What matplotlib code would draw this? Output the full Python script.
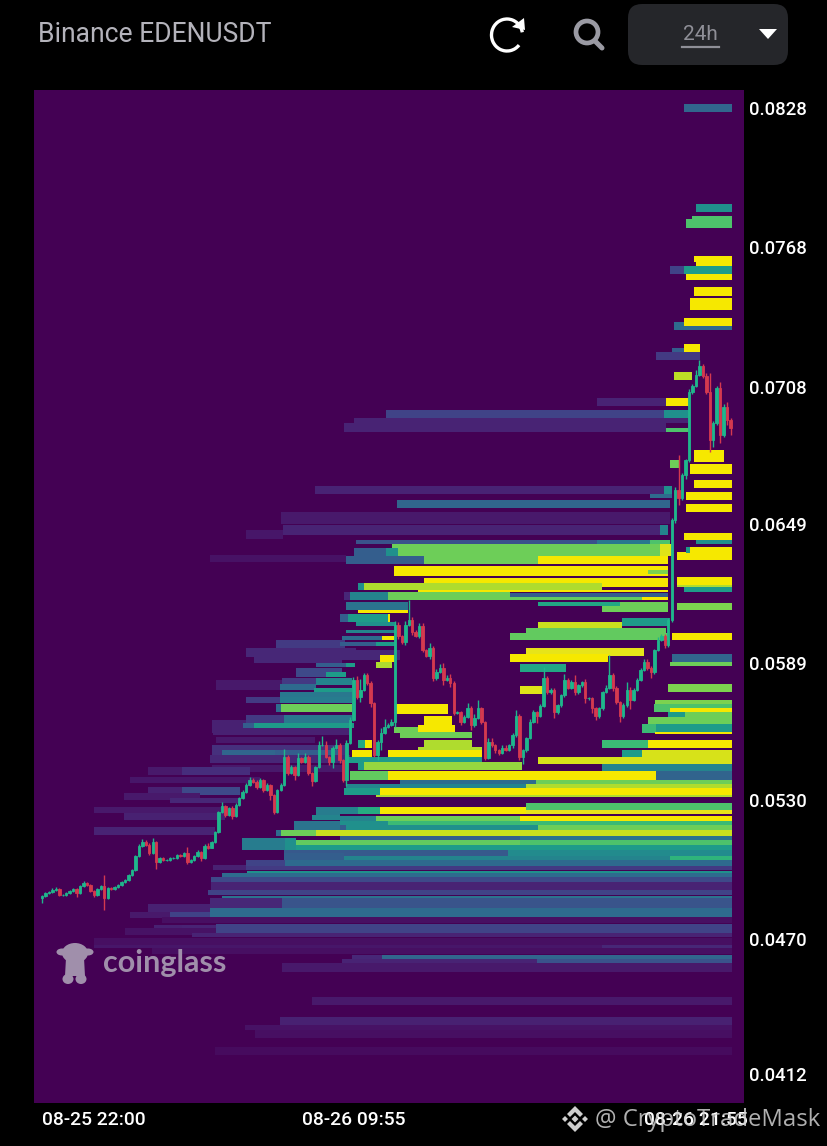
import matplotlib
matplotlib.use('Agg')
import matplotlib.pyplot as plt
import numpy as np
from matplotlib.patches import Arc, Circle, Ellipse, FancyBboxPatch, Polygon

W, H = 828, 1146
E = 690  # last time bucket of the heatmap

# price axis
price_ticks = [0.0828, 0.0768, 0.0708, 0.0649, 0.0589, 0.0530, 0.0470, 0.0412]
price_labels = ['0.0828', '0.0768', '0.0708', '0.0649', '0.0589', '0.0530', '0.0470', '0.0412']
price_top = 0.08357
price_bottom = 0.03995

# time axis (candle numbers)
time_ticks = [15, 90, 189]
time_labels = ['08-25 22:00', '08-26 09:55', '08-26 21:55']

# liquidation bands: first price bin, last price bin, first time bucket, last time bucket, level
heat_left = [
    (550, 558, 234, 303, .17), (558, 567, 204, 314, .11), (560, 570, 242, 358, .11), (567, 573, 212, 300, .11),
    (573, 577, 274, 304, .3), (573, 577, 304, 313, .55), (578, 583, 254, 300, .22), (582, 587, 254, 284, .22),
    (582, 587, 284, 304, .55), (590, 600, 174, 240, .07), (588, 595, 240, 274, .17), (588, 595, 274, 310, .45),
    (594, 600, 238, 274, .35), (598, 603, 272, 310, .55), (602, 607, 238, 310, .4), (607, 613, 204, 238, .17),
    (607, 613, 238, 310, .42), (614, 622, 234, 239, .35), (614, 622, 239, 310, .78), (625, 633, 204, 242, .17),
    (625, 633, 242, 310, .4), (630, 643, 170, 204, .09), (633, 638, 201, 212, .3), (633, 638, 212, 312, .55),
    (638, 645, 171, 308, .09), (647, 653, 174, 273, .07), (655, 665, 170, 303, .14), (660, 665, 180, 233, .33),
    (660, 665, 233, 298, .3), (665, 673, 168, 308, .11), (675, 682, 170, 303, .07), (677, 685, 106, 140, .07),
    (677, 685, 140, 208, .13), (687, 693, 88, 218, .06), (697, 705, 106, 140, .09), (697, 705, 140, 198, .22),
    (703, 710, 82, 158, .07), (708, 713, 128, 198, .11), (717, 723, 52, 183, .07), (723, 730, 82, 183, .09),
    (737, 745, 52, 173, .1),
]
heat_upper = [
    (14, 22, 642, E, .33), (114, 122, 654, E, .5), (126, 129, 650, E, .72), (129, 138, 644, E, .72),
    (166, 172, 652, E, 1), (172, 178, 654, E, 1), (176, 184, 628, 642, .2), (176, 184, 642, E, .55),
    (184, 190, 644, E, 1), (197, 206, 652, E, 1), (208, 220, 648, E, 1), (228, 236, 642, E, 1),
    (232, 240, 632, 642, .35), (236, 240, 642, E, .35), (258, 268, 630, 658, .3), (262, 270, 614, 658, .17),
    (254, 262, 642, 658, 1), (282, 290, 632, 650, .9), (308, 316, 555, 624, .1), (308, 316, 624, 648, 1),
    (320, 328, 344, 622, .2), (320, 328, 622, 648, .5), (328, 333, 312, 648, .1), (333, 342, 302, 624, .1),
    (338, 342, 624, 648, .72), (360, 372, 652, 682, 1), (370, 378, 628, 638, .78), (374, 384, 648, E, 1),
    (390, 398, 652, E, 1), (402, 410, 644, E, 1), (414, 422, 644, E, 1), (396, 404, 273, 622, .1),
    (396, 404, 622, 630, .5), (404, 408, 608, 630, .35), (410, 418, 355, 628, .33), (422, 434, 239, 628, .07),
    (440, 449, 204, 241, .06), (435, 445, 241, 618, .1), (435, 445, 618, 626, .45),
]
heat_cluster = [
    (443, 450, 642, E, 1), (450, 454, 654, E, .5), (450, 454, 314, 555, .25), (450, 454, 555, 608, .4),
    (450, 454, 608, 628, .72), (457, 462, 648, E, 1), (462, 470, 635, E, 1), (457, 463, 644, 648, .55),
    (454, 466, 350, 618, .78), (458, 466, 312, 344, .3), (458, 466, 344, 356, .5), (454, 466, 618, 630, .95),
    (465, 472, 168, 304, .05), (466, 474, 304, 382, .3), (466, 474, 382, 496, .78), (466, 474, 496, 626, 1),
    (476, 486, 352, 626, 1), (480, 484, 606, 626, .8), (488, 497, 382, 626, 1), (493, 500, 316, 322, .5),
    (493, 500, 322, 560, .88), (500, 502, 376, 626, 1), (502, 510, 302, 308, .11), (502, 510, 308, 346, .45),
    (502, 510, 346, 468, .78), (503, 507, 468, 626, .3), (507, 510, 468, 600, .76), (507, 510, 600, 626, 1),
    (512, 520, 304, 366, .38), (512, 516, 496, 578, .6), (512, 516, 578, 626, .78), (516, 522, 560, 626, .78),
    (520, 523, 316, 366, 1), (487, 495, 635, E, 1), (495, 497, 635, E, .88), (497, 502, 642, E, .55),
    (513, 520, 635, E, .8), (524, 532, 298, 306, .3), (524, 532, 306, 346, .55), (524, 532, 346, 348, 1),
    (532, 536, 314, 354, .5), (540, 543, 304, 354, .45), (546, 550, 300, 340, .35), (546, 550, 340, 353, 1),
    (552, 556, 298, 334, .3), (552, 556, 334, 354, .55), (565, 572, 338, 353, 1), (572, 578, 334, 350, .88),
    (528, 536, 580, 628, .55), (532, 540, 496, 580, .92), (538, 543, 484, 624, .76), (543, 550, 468, 626, .76),
    (543, 550, 630, E, 1), (558, 566, 484, 602, .96), (564, 572, 468, 566, 1), (564, 572, 630, E, .33),
    (572, 576, 628, E, .78), (574, 582, 478, 524, .6), (594, 602, 626, E, .8), (596, 604, 478, 501, .95),
]
heat_support = [
    (610, 618, 613, E, .8), (614, 622, 612, E, .72), (618, 622, 628, E, 1), (622, 628, 626, 643, .55),
    (622, 628, 643, E, .78), (627, 634, 606, E, .78), (634, 643, 600, 614, .68), (634, 643, 614, E, .55),
    (642, 644, 613, E, 1), (614, 624, 353, 406, 1), (626, 635, 382, 410, 1), (635, 642, 376, 413, 1),
    (637, 643, 352, 376, .78), (642, 648, 358, 430, .78), (650, 658, 316, 323, .6), (650, 658, 323, 330, 1),
    (650, 658, 382, 430, .88), (657, 664, 376, 440, .88), (660, 668, 310, 330, 1), (660, 668, 346, 440, 1),
    (667, 673, 304, 440, .55), (672, 680, 316, 322, .55), (672, 680, 322, 480, .84), (650, 658, 560, 606, .68),
    (650, 658, 606, E, 1), (660, 667, 580, 600, .55), (660, 667, 600, E, .94), (667, 674, 496, E, .94),
    (674, 681, 560, E, .45), (681, 690, 308, 346, .76), (681, 690, 346, 614, 1), (681, 690, 614, E, .32),
    (690, 694, 358, 494, .35), (690, 694, 494, E, .78), (694, 698, 304, 484, .45), (694, 698, 484, E, .88),
    (698, 705, 302, 338, .55), (698, 705, 338, E, 1), (705, 707, 334, E, .88),
]
heat_lower = [
    (713, 720, 484, E, .72), (717, 725, 274, 298, .42), (717, 724, 298, 316, .45), (717, 724, 316, 338, .62),
    (717, 724, 338, 484, 1), (720, 724, 484, E, .96), (725, 730, 270, 298, .45), (726, 731, 298, 334, .45),
    (726, 731, 334, 478, .78), (726, 731, 478, E, 1), (731, 735, 252, 298, .38), (731, 735, 298, 346, .5),
    (731, 735, 346, E, .68), (735, 740, 252, 298, .38), (735, 740, 298, 304, .3), (735, 740, 304, 496, .5),
    (735, 740, 496, E, .78), (740, 746, 234, 239, .35), (740, 746, 239, 274, .78), (740, 746, 274, E, .92),
    (746, 750, 298, 478, .3), (746, 750, 478, E, .38), (748, 760, 200, 243, .42), (748, 760, 243, 254, .5),
    (750, 755, 254, 478, .76), (750, 755, 478, E, .72), (755, 760, 254, E, .55), (760, 766, 242, 466, .28),
    (760, 766, 466, E, .48), (763, 770, 242, 302, .3), (766, 770, 302, 628, .45), (766, 770, 628, E, .65),
    (770, 776, 204, 243, .2), (770, 776, 243, E, .35), (775, 780, 171, 204, .09), (776, 780, 204, E, .17),
    (781, 783, 205, E, .5), (783, 787, 180, E, .35), (787, 792, 169, E, .22), (792, 800, 169, E, .1),
    (800, 805, 166, E, .2), (806, 808, 180, E, .38), (808, 818, 168, 240, .11), (808, 818, 240, E, .26),
    (814, 822, 106, 168, .09), (818, 827, 168, E, .35), (822, 828, 88, 128, .07), (822, 828, 128, 168, .2),
    (827, 833, 120, E, .04), (835, 842, 112, 140, .09), (835, 842, 140, 174, .1), (838, 845, 83, 174, .05),
    (834, 843, 174, E, .2), (843, 847, 150, E, .1), (848, 855, 52, E, .04), (855, 858, 52, E, .06),
    (855, 858, 560, E, .11), (858, 864, 110, E, .04), (865, 869, 310, 340, .11), (865, 869, 340, E, .33),
    (869, 873, 300, 495, .1), (869, 873, 495, E, .25), (873, 882, 240, E, .07), (907, 915, 270, E, .07),
    (927, 935, 238, E, .09), (935, 940, 203, E, .05), (940, 948, 213, E, .04), (957, 965, 173, E, .03),
]

# candles, price in units of 0.0001
candle_close = [
    488.7, 490.0, 490.4, 491.3, 491.7, 489.1, 489.1, 490.0, 490.8, 491.7,
    490.0, 493.0, 494.3, 493.4, 490.8, 489.1, 491.7, 493.0, 487.8, 492.1,
    491.7, 492.6, 493.4, 494.7, 495.6, 497.7, 499.9, 505.9, 510.2, 511.9,
    510.6, 507.2, 511.9, 503.3, 505.0, 504.2, 504.2, 505.0, 505.0, 506.3,
    505.9, 507.2, 503.3, 504.2, 505.9, 507.6, 505.0, 510.2, 509.4, 511.9,
    516.2, 524.8, 527.4, 523.6, 526.6, 523.1, 527.9, 530.9, 533.5, 536.5,
    538.6, 537.8, 535.6, 538.6, 534.3, 536.5, 532.2, 524.8, 534.3, 536.5,
    548.5, 541.6, 544.2, 540.8, 548.1, 546.4, 548.5, 541.6, 538.2, 544.2,
    553.7, 553.7, 548.5, 546.4, 552.4, 553.7, 547.2, 538.6, 554.6, 564.5,
    581.7, 574.4, 577.4, 583.8, 580.4, 571.8, 549.4, 555.0, 558.9, 561.5,
    562.3, 563.6, 605.4, 600.6, 598.0, 605.4, 607.5, 602.4, 600.6, 605.0,
    594.6, 592.0, 595.5, 582.6, 585.1, 586.9, 581.7, 582.6, 580.4, 567.5,
    567.9, 563.6, 565.8, 569.6, 562.3, 565.3, 569.6, 563.6, 548.1, 555.0,
    553.7, 551.5, 550.3, 552.4, 551.5, 553.7, 558.0, 566.2, 548.5, 551.5,
    556.7, 563.6, 567.9, 566.2, 570.5, 582.6, 576.5, 577.4, 567.9, 570.9,
    575.2, 581.7, 578.3, 580.8, 576.5, 579.5, 580.8, 573.9, 573.9, 569.6,
    566.2, 569.6, 576.5, 578.3, 583.8, 578.3, 572.2, 566.2, 570.9, 577.4,
    573.1, 577.4, 581.7, 586.0, 589.4, 586.9, 585.1, 594.6, 598.9, 600.6,
    596.8, 607.5, 650.6, 663.5, 660.1, 670.0, 676.4, 705.7, 708.3, 713.0,
    716.9, 712.6, 705.7, 685.0, 692.3, 707.4, 687.2, 699.2, 693.7, 690.2,
]
wick_up = [
    .5, .4, .5, .8, 1, .2, .3, .5, .4, .3,
    .3, .4, .6, .3, .2, .3, .5, .4, 4.7, .5,
    .3, .4, .3, .5, .4, .5, .4, .6, .8, 1.2,
    1.0, .8, 1.6, .6, .4, .3, .5, .4, .3, .5,
    .3, .5, 2.4, .4, .5, 1.0, .4, .8, 1.2, .6,
    .6, .5, 1.5, .6, .4, .8, .6, .5, .6, .8,
    1.4, 1.0, .6, .8, .5, 1.0, .4, .4, .5, .6,
    3.4, 1.0, .8, .6, 2.2, .5, 1.6, .8, .4, .6,
    1.5, 3.8, 1.5, .4, .8, 2.6, .8, .6, 1.4, 1.0,
    1.2, 1.6, 4.5, .8, 1.0, .6, .4, 1.0, 2.2, 3.2,
    .8, 1.4, 1.6, 1.2, .6, 1.6, 8.6, 1.2, .8, 1.0,
    1, .6, 2, .8, 1.4, 1.6, 2.0, 1.2, 1.5, .8,
    .6, .4, .6, 2.2, 1.0, 1.6, 3.4, .6, .5, 1.5,
    1.8, .6, .5, 1.2, 1.4, .6, .8, 2.4, .8, .5,
    .4, 1.4, 1.0, .6, .8, 4.5, .6, 1.0, .8, .6,
    .5, 2.6, .8, 1.0, 3.2, .6, .6, 1.2, .4, .6,
    .4, .5, .6, 1.2, 8.6, .8, .8, .6, 1.0, 3.4,
    1.4, .6, .8, .8, 1.2, 1.4, .8, .6, 1.2, .8,
    .8, 1.0, 1.0, 1.2, 15.0, .8, .6, 1.4, 1.0, 2.0,
    2.4, 1.0, 1.4, 8.0, 1.0, 1.0, 2.6, 1.2, 2.0, .8,
]
wick_down = [
    2, .3, .5, .3, .5, .6, .4, .5, .3, .4,
    1.6, .3, .4, .3, .6, .7, .4, .4, 5.1, .6,
    .4, .3, .5, .4, .3, .4, .5, .4, .5, .4,
    .6, .8, .5, 3.0, .4, .6, .5, .6, .5, .4,
    .5, .4, .9, .6, .5, .4, 1.4, .4, .6, .3,
    .4, .4, .3, .8, .4, 1.2, .5, .4, .5, .3,
    .4, .6, .8, .5, .9, .6, 2.2, .8, .4, .5,
    .4, 1.0, .6, 2.4, .6, .5, .4, .8, 2.2, .5,
    .4, .6, .5, 1.4, 2.8, .5, 1.2, 1.0, 2.4, .4,
    .5, .9, 2.2, .6, .8, 1.6, .7, 2.0, 3.4, .5,
    .5, .5, 2.2, 1.2, 1.0, 1.4, .6, 1.2, .5, .9,
    1.0, .6, 1.1, 1.6, .8, .6, 2.2, .6, 1.8, .9,
    .6, 1.2, .6, .5, 2.1, .8, .6, .7, .8, .6,
    1.1, 1.4, .9, .7, .6, .6, 1.2, .8, 1.2, 3.1,
    .8, .6, .6, 3.2, .5, .6, 1.0, .7, 2.6, 1.0,
    .7, .8, .6, .7, 1.4, .8, .9, 2.2, .7, 2.2,
    1.6, .9, 1.0, .6, .5, 1.2, .8, 2.6, 1.0, .7,
    3.8, .6, .5, .6, .6, 1.0, 2.4, .7, .6, .5,
    1.4, 1.0, .9, 1.2, 3.2, 1.0, 2.0, 1.0, .8, .6,
    .6, .9, 1.0, 5.2, 3.0, .8, 3.6, .9, 2.2, 3.0,
]

UP_COLOR = '#1fb68c'
DOWN_COLOR = '#d4394f'
candle_step = 3.46  # pixels between candles


def build_heat():
    """Fill the price/time grid from the band lists."""
    grid = np.zeros((1013, E))
    for zone in (heat_left, heat_upper, heat_cluster, heat_support, heat_lower):
        for row0, row1, col0, col1, level in zone:
            grid[row0:row1, col0:col1] = level
    return grid


def draw_candles(ax):
    close = np.array(candle_close) * 1e-4
    openp = np.concatenate(([close[0] - 1e-4], close[:-1]))
    top = np.maximum(openp, close)
    bottom = np.minimum(openp, close)
    colors = [UP_COLOR if c >= o else DOWN_COLOR for o, c in zip(openp, close)]
    idx = np.arange(len(close))
    ax.vlines(idx, bottom - np.array(wick_down) * 1e-4, top + np.array(wick_up) * 1e-4,
              colors=colors, lw=1.0, zorder=3)
    ax.bar(idx, top - bottom, bottom=bottom, width=0.7, color=colors, edgecolor=colors,
           lw=0.6, zorder=4)


def draw_header(ui):
    ui.text(38, 35, 'Binance EDENUSDT', color='#b4b3bb', fontsize=19.1, family='Roboto', va='center')
    # refresh button
    ui.add_patch(Arc((507, 35), 31, 32, theta1=-320, theta2=-10, color='white', lw=2.4))
    ui.add_patch(Polygon([(512, 27), (524, 18), (525, 30)], color='white', lw=0))
    # search button
    ui.add_patch(Circle((587, 32), 11, fill=False, ec='#9a9aa3', lw=3.4))
    ui.plot([595, 602], [41, 48], color='#9a9aa3', lw=3.6, solid_capstyle='round')
    # period selector
    ui.add_patch(FancyBboxPatch((628, 4), 160, 61, boxstyle='round,pad=0,rounding_size=14',
                                fc='#25262a', ec='none', lw=0))
    ui.text(700, 35, '24h', color='#8f8f97', fontsize=15, family='Roboto', ha='center', va='center')
    ui.plot([682, 719], [46.5, 46.5], color='#8f8f97', lw=1.6)
    ui.add_patch(Polygon([(759, 29), (777, 29), (768, 39)], color='white', lw=0))


def draw_logo(ui):
    logo = '#a08fab'
    ui.add_patch(Ellipse((75, 953), 26, 20, color=logo, lw=0))
    ui.add_patch(Ellipse((62, 952), 11, 7, color=logo, lw=0))
    ui.add_patch(Ellipse((88, 952), 11, 7, color=logo, lw=0))
    ui.add_patch(Polygon([(66, 958), (84, 958), (85, 976), (65, 976)], color=logo, lw=0))
    ui.add_patch(Ellipse((68, 979), 11, 10, color=logo, lw=0))
    ui.add_patch(Ellipse((81, 979), 11, 10, color=logo, lw=0))
    ui.text(103, 963, 'coinglass', color=logo, fontsize=22, family='Lato', weight='bold', va='center')


def draw_watermark(ui):
    mark = '#cfcfcf'
    cx, cy = 575, 1119
    for dx, dy, size in [(-10, 0, 3), (10, 0, 3), (0, 0, 3.5)]:
        ui.add_patch(Polygon([(cx + dx, cy + dy - size), (cx + dx + size, cy + dy),
                              (cx + dx, cy + dy + size), (cx + dx - size, cy + dy)], color=mark, lw=0))
    for sign in (-1, 1):
        ui.add_patch(Polygon([(cx, cy + sign * 13), (cx + 8, cy + sign * 5), (cx + 5, cy + sign * 2),
                              (cx, cy + sign * 7), (cx - 5, cy + sign * 2), (cx - 8, cy + sign * 5)],
                             color=mark, lw=0))
    ui.text(595, 1120, '@ CryptoTradeMask', color=mark, alpha=0.85, fontsize=17.2, family='Open Sans', va='center')


plt.rcParams['font.family'] = ['Roboto', 'DejaVu Sans']
fig = plt.figure(figsize=(W / 100, H / 100), dpi=100, facecolor='black')

ax = fig.add_axes([34 / W, 1 - 1103 / H, 710 / W, 1013 / H], facecolor='#440154')
heat = build_heat()
x_left = -8 / candle_step
x_right = 702 / candle_step
cmap = plt.get_cmap('viridis').copy()
cmap.set_over('#f6e800')
ax.imshow(heat, cmap=cmap, vmin=0, vmax=0.999, aspect='auto', interpolation='nearest',
          extent=[0, E / candle_step, price_bottom, price_top], zorder=1)
draw_candles(ax)
ax.set_xlim(x_left, x_right)
ax.set_ylim(price_bottom, price_top)

for side in ax.spines.values():
    side.set_visible(False)
ax.yaxis.tick_right()
ax.set_yticks(price_ticks)
ax.set_yticklabels(price_labels, fontsize=13.3, color='white', fontweight='medium')
ax.set_xticks(time_ticks)
ax.set_xticklabels(time_labels, fontsize=13.9, color='white', fontweight='medium')
ax.tick_params(axis='both', length=0)
ax.tick_params(axis='y', pad=3.5)
ax.tick_params(axis='x', pad=5.5)

# chrome drawn in pixel coordinates on top of the chart
ui = fig.add_axes([0, 0, 1, 1], facecolor='none')
ui.set_xlim(0, W)
ui.set_ylim(H, 0)
ui.axis('off')
draw_header(ui)
draw_logo(ui)
draw_watermark(ui)

fig.savefig('out.png', dpi=100, facecolor='black')
